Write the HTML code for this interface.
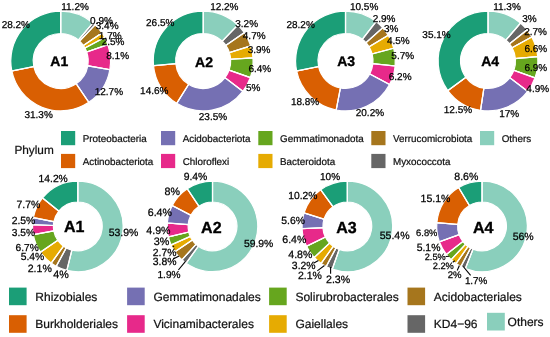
<!DOCTYPE html>
<html><head><meta charset="utf-8"><title>Donut charts</title>
<style>html,body{margin:0;padding:0;background:#fff;width:550px;height:337px;overflow:hidden}svg{display:block}</style>
</head><body>
<svg width="550" height="337" viewBox="0 0 550 337" text-rendering="geometricPrecision" font-family="'Liberation Sans', sans-serif"><g stroke="#fff" stroke-width="1.2">
<path d="M60.7 11.1A49.9 49.9 0 0 1 92.99 22.95L78.49 40.03A27.5 27.5 0 0 0 60.7 33.5Z" fill="#8ACFBC"/>
<path d="M92.99 22.95A49.9 49.9 0 0 1 95.09 24.84L79.65 41.07A27.5 27.5 0 0 0 78.49 40.03Z" fill="#666666"/>
<path d="M95.09 24.84A49.9 49.9 0 0 1 101.97 32.95L83.44 45.54A27.5 27.5 0 0 0 79.65 41.07Z" fill="#A6761D"/>
<path d="M101.97 32.95A49.9 49.9 0 0 1 104.73 37.51L84.96 48.06A27.5 27.5 0 0 0 83.44 45.54Z" fill="#E6AB02"/>
<path d="M104.73 37.51A49.9 49.9 0 0 1 107.86 44.69L86.69 52.01A27.5 27.5 0 0 0 84.96 48.06Z" fill="#66A61E"/>
<path d="M107.86 44.69A49.9 49.9 0 0 1 109.83 69.73L87.78 65.81A27.5 27.5 0 0 0 86.69 52.01Z" fill="#E7298A"/>
<path d="M109.83 69.73A49.9 49.9 0 0 1 88.75 102.27L76.16 83.74A27.5 27.5 0 0 0 87.78 65.81Z" fill="#7570B3"/>
<path d="M88.75 102.27A49.9 49.9 0 0 1 11.81 70.97L33.75 66.49A27.5 27.5 0 0 0 76.16 83.74Z" fill="#D95F02"/>
<path d="M11.81 70.97A49.9 49.9 0 0 1 60.7 11.1L60.7 33.5A27.5 27.5 0 0 0 33.75 66.49Z" fill="#1B9E77"/>
<line x1="60.7" y1="34.5" x2="60.7" y2="10.1"/>
<line x1="77.85" y1="40.8" x2="93.64" y2="22.19"/>
<line x1="78.96" y1="41.8" x2="95.78" y2="24.12"/>
<line x1="82.62" y1="46.1" x2="102.8" y2="32.39"/>
<line x1="84.08" y1="48.53" x2="105.61" y2="37.04"/>
<line x1="85.74" y1="52.34" x2="108.8" y2="44.36"/>
<line x1="86.79" y1="65.64" x2="110.81" y2="69.91"/>
<line x1="75.6" y1="82.92" x2="89.31" y2="103.1"/>
<line x1="34.73" y1="66.29" x2="10.83" y2="71.17"/>
<path d="M203.2 11.1A49.9 49.9 0 0 1 237.81 25.06L222.28 41.19A27.5 27.5 0 0 0 203.2 33.5Z" fill="#8ACFBC"/>
<path d="M237.81 25.06A49.9 49.9 0 0 1 244.29 32.69L225.85 45.4A27.5 27.5 0 0 0 222.28 41.19Z" fill="#666666"/>
<path d="M244.29 32.69A49.9 49.9 0 0 1 250.75 45.88L229.41 52.67A27.5 27.5 0 0 0 225.85 45.4Z" fill="#A6761D"/>
<path d="M250.75 45.88A49.9 49.9 0 0 1 253 57.87L230.65 59.27A27.5 27.5 0 0 0 229.41 52.67Z" fill="#E6AB02"/>
<path d="M253 57.87A49.9 49.9 0 0 1 250.26 77.61L229.13 70.15A27.5 27.5 0 0 0 230.65 59.27Z" fill="#66A61E"/>
<path d="M250.26 77.61A49.9 49.9 0 0 1 242.82 91.34L225.03 77.72A27.5 27.5 0 0 0 229.13 70.15Z" fill="#E7298A"/>
<path d="M242.82 91.34A49.9 49.9 0 0 1 176.73 103.3L188.61 84.31A27.5 27.5 0 0 0 225.03 77.72Z" fill="#7570B3"/>
<path d="M176.73 103.3A49.9 49.9 0 0 1 153.52 65.7L175.82 63.59A27.5 27.5 0 0 0 188.61 84.31Z" fill="#D95F02"/>
<path d="M153.52 65.7A49.9 49.9 0 0 1 203.2 11.1L203.2 33.5A27.5 27.5 0 0 0 175.82 63.59Z" fill="#1B9E77"/>
<line x1="203.2" y1="34.5" x2="203.2" y2="10.1"/>
<line x1="221.58" y1="41.91" x2="238.51" y2="24.34"/>
<line x1="225.02" y1="45.97" x2="245.12" y2="32.13"/>
<line x1="228.45" y1="52.97" x2="251.71" y2="45.58"/>
<line x1="229.65" y1="59.34" x2="254" y2="57.8"/>
<line x1="228.19" y1="69.82" x2="251.2" y2="77.94"/>
<line x1="224.24" y1="77.11" x2="243.61" y2="91.94"/>
<line x1="189.14" y1="83.46" x2="176.2" y2="104.15"/>
<line x1="176.82" y1="63.49" x2="152.53" y2="65.79"/>
<path d="M345.5 11.1A49.9 49.9 0 0 1 376.08 21.57L362.35 39.27A27.5 27.5 0 0 0 345.5 33.5Z" fill="#8ACFBC"/>
<path d="M376.08 21.57A49.9 49.9 0 0 1 382.72 27.77L366.01 42.68A27.5 27.5 0 0 0 362.35 39.27Z" fill="#666666"/>
<path d="M382.72 27.77A49.9 49.9 0 0 1 388.29 35.33L369.08 46.85A27.5 27.5 0 0 0 366.01 42.68Z" fill="#A6761D"/>
<path d="M388.29 35.33A49.9 49.9 0 0 1 393.75 48.29L372.09 53.99A27.5 27.5 0 0 0 369.08 46.85Z" fill="#E6AB02"/>
<path d="M393.75 48.29A49.9 49.9 0 0 1 395.15 66.01L372.86 63.76A27.5 27.5 0 0 0 372.09 53.99Z" fill="#66A61E"/>
<path d="M395.15 66.01A49.9 49.9 0 0 1 389.53 84.49L369.76 73.94A27.5 27.5 0 0 0 372.86 63.76Z" fill="#E7298A"/>
<path d="M389.53 84.49A49.9 49.9 0 0 1 336.15 110.02L340.35 88.01A27.5 27.5 0 0 0 369.76 73.94Z" fill="#7570B3"/>
<path d="M336.15 110.02A49.9 49.9 0 0 1 296.61 70.97L318.55 66.49A27.5 27.5 0 0 0 340.35 88.01Z" fill="#D95F02"/>
<path d="M296.61 70.97A49.9 49.9 0 0 1 345.5 11.1L345.5 33.5A27.5 27.5 0 0 0 318.55 66.49Z" fill="#1B9E77"/>
<line x1="345.5" y1="34.5" x2="345.5" y2="10.1"/>
<line x1="361.74" y1="40.06" x2="376.7" y2="20.78"/>
<line x1="365.27" y1="43.35" x2="383.47" y2="27.1"/>
<line x1="368.22" y1="47.37" x2="389.15" y2="34.82"/>
<line x1="371.13" y1="54.25" x2="394.72" y2="48.03"/>
<line x1="371.87" y1="63.66" x2="396.14" y2="66.11"/>
<line x1="368.88" y1="73.47" x2="390.41" y2="84.96"/>
<line x1="340.53" y1="87.03" x2="335.96" y2="111"/>
<line x1="319.53" y1="66.29" x2="295.63" y2="71.17"/>
<path d="M488 11.1A49.9 49.9 0 0 1 520.53 23.16L505.93 40.15A27.5 27.5 0 0 0 488 33.5Z" fill="#8ACFBC"/>
<path d="M520.53 23.16A49.9 49.9 0 0 1 527.04 29.92L509.52 43.87A27.5 27.5 0 0 0 505.93 40.15Z" fill="#666666"/>
<path d="M527.04 29.92A49.9 49.9 0 0 1 531.73 36.96L512.1 47.75A27.5 27.5 0 0 0 509.52 43.87Z" fill="#A6761D"/>
<path d="M531.73 36.96A49.9 49.9 0 0 1 537.71 56.62L515.39 58.58A27.5 27.5 0 0 0 512.1 47.75Z" fill="#E6AB02"/>
<path d="M537.71 56.62A49.9 49.9 0 0 1 534.95 77.9L513.87 70.32A27.5 27.5 0 0 0 515.39 58.58Z" fill="#66A61E"/>
<path d="M534.95 77.9A49.9 49.9 0 0 1 527.62 91.34L509.83 77.72A27.5 27.5 0 0 0 513.87 70.32Z" fill="#E7298A"/>
<path d="M527.62 91.34A49.9 49.9 0 0 1 480.5 110.33L483.87 88.19A27.5 27.5 0 0 0 509.83 77.72Z" fill="#7570B3"/>
<path d="M480.5 110.33A49.9 49.9 0 0 1 447.82 90.58L465.85 77.3A27.5 27.5 0 0 0 483.87 88.19Z" fill="#D95F02"/>
<path d="M447.82 90.58A49.9 49.9 0 0 1 488 11.1L488 33.5A27.5 27.5 0 0 0 465.85 77.3Z" fill="#1B9E77"/>
<line x1="488" y1="34.5" x2="488" y2="10.1"/>
<line x1="505.27" y1="40.9" x2="521.18" y2="22.4"/>
<line x1="508.73" y1="44.5" x2="527.82" y2="29.3"/>
<line x1="511.22" y1="48.23" x2="532.6" y2="36.48"/>
<line x1="514.4" y1="58.67" x2="538.7" y2="56.53"/>
<line x1="512.93" y1="69.98" x2="535.89" y2="78.24"/>
<line x1="509.04" y1="77.11" x2="528.41" y2="91.94"/>
<line x1="484.02" y1="87.2" x2="480.35" y2="111.32"/>
<line x1="466.66" y1="76.71" x2="447.01" y2="91.18"/>
<path d="M77.8 181.1A45.3 45.3 0 1 1 66.81 270.35L71.88 250.07A24.4 24.4 0 1 0 77.8 202Z" fill="#8ACFBC"/>
<path d="M66.81 270.35A45.3 45.3 0 0 1 56.23 266.23L66.18 247.86A24.4 24.4 0 0 0 71.88 250.07Z" fill="#666666"/>
<path d="M56.23 266.23A45.3 45.3 0 0 1 51.17 263.05L63.46 246.14A24.4 24.4 0 0 0 66.18 247.86Z" fill="#A6761D"/>
<path d="M51.17 263.05A45.3 45.3 0 0 1 40.49 252.1L57.71 240.24A24.4 24.4 0 0 0 63.46 246.14Z" fill="#E6AB02"/>
<path d="M40.49 252.1A45.3 45.3 0 0 1 33.25 234.61L53.8 230.82A24.4 24.4 0 0 0 57.71 240.24Z" fill="#66A61E"/>
<path d="M33.25 234.61A45.3 45.3 0 0 1 32.53 224.69L53.42 225.48A24.4 24.4 0 0 0 53.8 230.82Z" fill="#E7298A"/>
<path d="M32.53 224.69A45.3 45.3 0 0 1 33.36 217.63L53.86 221.68A24.4 24.4 0 0 0 53.42 225.48Z" fill="#7570B3"/>
<path d="M33.36 217.63A45.3 45.3 0 0 1 42.54 197.97L58.81 211.08A24.4 24.4 0 0 0 53.86 221.68Z" fill="#D95F02"/>
<path d="M42.54 197.97A45.3 45.3 0 0 1 77.8 181.1L77.8 202A24.4 24.4 0 0 0 58.81 211.08Z" fill="#1B9E77"/>
<line x1="77.8" y1="203" x2="77.8" y2="180.1"/>
<line x1="72.12" y1="249.1" x2="66.57" y2="271.32"/>
<line x1="66.66" y1="246.98" x2="55.75" y2="267.11"/>
<line x1="64.05" y1="245.33" x2="50.59" y2="263.86"/>
<line x1="58.53" y1="239.67" x2="39.67" y2="252.66"/>
<line x1="54.79" y1="230.64" x2="32.27" y2="234.79"/>
<line x1="54.42" y1="225.52" x2="31.53" y2="224.65"/>
<line x1="54.84" y1="221.87" x2="32.38" y2="217.44"/>
<line x1="59.58" y1="211.71" x2="41.76" y2="197.34"/>
<path d="M212.5 181.1A45.3 45.3 0 1 1 186.1 263.22L198.28 246.23A24.4 24.4 0 1 0 212.5 202Z" fill="#8ACFBC"/>
<path d="M186.1 263.22A45.3 45.3 0 0 1 181.91 259.81L196.02 244.4A24.4 24.4 0 0 0 198.28 246.23Z" fill="#666666"/>
<path d="M181.91 259.81A45.3 45.3 0 0 1 174.87 251.63L192.23 239.99A24.4 24.4 0 0 0 196.02 244.4Z" fill="#A6761D"/>
<path d="M174.87 251.63A45.3 45.3 0 0 1 171.16 244.91L190.23 236.37A24.4 24.4 0 0 0 192.23 239.99Z" fill="#E6AB02"/>
<path d="M171.16 244.91A45.3 45.3 0 0 1 168.42 236.84L188.76 232.02A24.4 24.4 0 0 0 190.23 236.37Z" fill="#66A61E"/>
<path d="M168.42 236.84A45.3 45.3 0 0 1 167.33 222.99L188.17 224.56A24.4 24.4 0 0 0 188.76 232.02Z" fill="#E7298A"/>
<path d="M167.33 222.99A45.3 45.3 0 0 1 172.27 205.58L190.83 215.19A24.4 24.4 0 0 0 188.17 224.56Z" fill="#7570B3"/>
<path d="M172.27 205.58A45.3 45.3 0 0 1 187.27 188.77L198.91 206.13A24.4 24.4 0 0 0 190.83 215.19Z" fill="#D95F02"/>
<path d="M187.27 188.77A45.3 45.3 0 0 1 212.5 181.1L212.5 202A24.4 24.4 0 0 0 198.91 206.13Z" fill="#1B9E77"/>
<line x1="212.5" y1="203" x2="212.5" y2="180.1"/>
<line x1="198.87" y1="245.42" x2="185.52" y2="264.03"/>
<line x1="196.7" y1="243.66" x2="181.23" y2="260.55"/>
<line x1="193.06" y1="239.43" x2="174.04" y2="252.18"/>
<line x1="191.14" y1="235.96" x2="170.24" y2="245.32"/>
<line x1="189.73" y1="231.79" x2="167.45" y2="237.07"/>
<line x1="189.17" y1="224.64" x2="166.33" y2="222.91"/>
<line x1="191.72" y1="215.65" x2="171.38" y2="205.12"/>
<line x1="199.47" y1="206.96" x2="186.72" y2="187.94"/>
<path d="M347.3 181.1A45.3 45.3 0 1 1 332.22 269.12L339.18 249.41A24.4 24.4 0 1 0 347.3 202Z" fill="#8ACFBC"/>
<path d="M332.22 269.12A45.3 45.3 0 0 1 326.23 266.5L335.95 248A24.4 24.4 0 0 0 339.18 249.41Z" fill="#666666"/>
<path d="M326.23 266.5A45.3 45.3 0 0 1 321.14 263.38L333.21 246.32A24.4 24.4 0 0 0 335.95 248Z" fill="#A6761D"/>
<path d="M321.14 263.38A45.3 45.3 0 0 1 314.28 257.41L329.51 243.1A24.4 24.4 0 0 0 333.21 246.32Z" fill="#E6AB02"/>
<path d="M314.28 257.41A45.3 45.3 0 0 1 306.56 246.2L325.35 237.07A24.4 24.4 0 0 0 329.51 243.1Z" fill="#66A61E"/>
<path d="M306.56 246.2A45.3 45.3 0 0 1 302.06 228.68L322.93 227.63A24.4 24.4 0 0 0 325.35 237.07Z" fill="#E7298A"/>
<path d="M302.06 228.68A45.3 45.3 0 0 1 304.04 212.94L324 219.15A24.4 24.4 0 0 0 322.93 227.63Z" fill="#7570B3"/>
<path d="M304.04 212.94A45.3 45.3 0 0 1 320.67 189.75L332.96 206.66A24.4 24.4 0 0 0 324 219.15Z" fill="#D95F02"/>
<path d="M320.67 189.75A45.3 45.3 0 0 1 347.3 181.1L347.3 202A24.4 24.4 0 0 0 332.96 206.66Z" fill="#1B9E77"/>
<line x1="347.3" y1="203" x2="347.3" y2="180.1"/>
<line x1="339.51" y1="248.47" x2="331.89" y2="270.06"/>
<line x1="336.42" y1="247.11" x2="325.76" y2="267.39"/>
<line x1="333.78" y1="245.5" x2="320.56" y2="264.2"/>
<line x1="330.24" y1="242.42" x2="313.55" y2="258.09"/>
<line x1="326.25" y1="236.63" x2="305.66" y2="246.64"/>
<line x1="323.93" y1="227.58" x2="301.06" y2="228.73"/>
<line x1="324.96" y1="219.45" x2="303.09" y2="212.65"/>
<line x1="333.55" y1="207.47" x2="320.09" y2="188.94"/>
<path d="M482 181.1A45.3 45.3 0 1 1 465.32 268.52L473.02 249.09A24.4 24.4 0 1 0 482 202Z" fill="#8ACFBC"/>
<path d="M465.32 268.52A45.3 45.3 0 0 1 460.93 266.5L470.65 248A24.4 24.4 0 0 0 473.02 249.09Z" fill="#666666"/>
<path d="M460.93 266.5A45.3 45.3 0 0 1 456.07 263.54L468.03 246.41A24.4 24.4 0 0 0 470.65 248Z" fill="#A6761D"/>
<path d="M456.07 263.54A45.3 45.3 0 0 1 451.2 259.62L465.41 244.29A24.4 24.4 0 0 0 468.03 246.41Z" fill="#E6AB02"/>
<path d="M451.2 259.62A45.3 45.3 0 0 1 446.38 254.39L462.81 241.48A24.4 24.4 0 0 0 465.41 244.29Z" fill="#66A61E"/>
<path d="M446.38 254.39A45.3 45.3 0 0 1 439.38 241.74L459.04 234.67A24.4 24.4 0 0 0 462.81 241.48Z" fill="#E7298A"/>
<path d="M439.38 241.74A45.3 45.3 0 0 1 436.85 222.7L457.68 224.41A24.4 24.4 0 0 0 459.04 234.67Z" fill="#7570B3"/>
<path d="M436.85 222.7A45.3 45.3 0 0 1 458.7 187.55L469.45 205.48A24.4 24.4 0 0 0 457.68 224.41Z" fill="#D95F02"/>
<path d="M458.7 187.55A45.3 45.3 0 0 1 482 181.1L482 202A24.4 24.4 0 0 0 469.45 205.48Z" fill="#1B9E77"/>
<line x1="482" y1="203" x2="482" y2="180.1"/>
<line x1="473.39" y1="248.16" x2="464.96" y2="269.45"/>
<line x1="471.12" y1="247.11" x2="460.46" y2="267.39"/>
<line x1="468.61" y1="245.59" x2="455.5" y2="264.36"/>
<line x1="466.09" y1="243.56" x2="450.52" y2="260.35"/>
<line x1="463.6" y1="240.86" x2="445.59" y2="255.01"/>
<line x1="459.98" y1="234.33" x2="438.44" y2="242.08"/>
<line x1="458.68" y1="224.49" x2="435.85" y2="222.62"/>
<line x1="469.96" y1="206.33" x2="458.18" y2="186.7"/>
</g>
<g font-weight="bold" fill="#000" stroke="#000" stroke-width="0.35">
<text x="50.3" y="65.7" font-size="14">A1</text>
<text x="195.1" y="66.8" font-size="14">A2</text>
<text x="337.2" y="65.9" font-size="14">A3</text>
<text x="481.2" y="66.1" font-size="14">A4</text>
<text x="64" y="231.7" font-size="16">A1</text>
<text x="201.1" y="232.5" font-size="16">A2</text>
<text x="336.3" y="232.5" font-size="16">A3</text>
<text x="472.9" y="232.5" font-size="16">A4</text>
</g>
<g fill="#000" stroke="#000" stroke-width="0.25">
<text x="1.65" y="27.75" font-size="10">28.2%</text>
<text x="61.22" y="10.25" font-size="10">11.2%</text>
<text x="90.09" y="24.25" font-size="10">0.9%</text>
<text x="95.74" y="29.35" font-size="10">3.4%</text>
<text x="98.8" y="38.85" font-size="10">1.7%</text>
<text x="101.63" y="45.05" font-size="10">2.5%</text>
<text x="106.26" y="59.35" font-size="10">8.1%</text>
<text x="94.72" y="95.45" font-size="10">12.7%</text>
<text x="24.46" y="117.55" font-size="10">31.3%</text>
<text x="146.05" y="25.55" font-size="10">26.5%</text>
<text x="210.17" y="10.45" font-size="10">12.2%</text>
<text x="235.29" y="26.75" font-size="10">3.2%</text>
<text x="242.82" y="38.65" font-size="10">4.7%</text>
<text x="247.69" y="53.45" font-size="10">3.9%</text>
<text x="248.38" y="71.95" font-size="10">6.4%</text>
<text x="246.05" y="91.25" font-size="10">5%</text>
<text x="198.8" y="120.45" font-size="10">23.5%</text>
<text x="140.12" y="94.25" font-size="10">14.6%</text>
<text x="286.45" y="27.75" font-size="10">28.2%</text>
<text x="349.97" y="9.85" font-size="10">10.5%</text>
<text x="372.63" y="21.65" font-size="10">2.9%</text>
<text x="384.01" y="32.35" font-size="10">3%</text>
<text x="386.92" y="44.45" font-size="10">4.5%</text>
<text x="391.33" y="59.35" font-size="10">5.7%</text>
<text x="388.78" y="80.45" font-size="10">6.2%</text>
<text x="355.75" y="115.85" font-size="10">20.2%</text>
<text x="290.92" y="104.95" font-size="10">18.8%</text>
<text x="422.36" y="37.95" font-size="10">35.1%</text>
<text x="493.17" y="10.25" font-size="10">11.3%</text>
<text x="522.16" y="21.65" font-size="10">3%</text>
<text x="524.18" y="35.45" font-size="10">2.7%</text>
<text x="524.38" y="51.65" font-size="10">6.6%</text>
<text x="524.38" y="71.05" font-size="10">6.9%</text>
<text x="526.37" y="91.85" font-size="10">4.9%</text>
<text x="499.24" y="117.25" font-size="10">17%</text>
<text x="443.82" y="113.25" font-size="10">12.5%</text>
<text x="38.56" y="181.95" font-size="10.32">14.2%</text>
<text x="108.63" y="235.95" font-size="10.44">53.9%</text>
<text x="16.51" y="208.05" font-size="10.49">7.7%</text>
<text x="11.63" y="224.35" font-size="10.4">2.5%</text>
<text x="11.76" y="236.15" font-size="10.2">3.5%</text>
<text x="15.53" y="250.65" font-size="10.17">6.7%</text>
<text x="20.64" y="260.25" font-size="10.35">5.4%</text>
<text x="27.72" y="272.15" font-size="10.58">2.1%</text>
<text x="53.3" y="277.55" font-size="10.74">4%</text>
<text x="183.66" y="180.05" font-size="10.42">9.4%</text>
<text x="164.49" y="194.75" font-size="10.69">8%</text>
<text x="147.71" y="215.55" font-size="10.67">6.4%</text>
<text x="146.31" y="233.95" font-size="10.63">4.9%</text>
<text x="153.74" y="244.55" font-size="10.79">3%</text>
<text x="152.73" y="255.85" font-size="10.4">2.7%</text>
<text x="152.75" y="264.75" font-size="10.43">3.8%</text>
<text x="157.48" y="277.95" font-size="10.15">1.9%</text>
<text x="243.94" y="246.75" font-size="10.36">59.9%</text>
<text x="319.98" y="180.05" font-size="10.05">10%</text>
<text x="288.16" y="199.25" font-size="10.32">10.2%</text>
<text x="281.33" y="223.65" font-size="10.39">5.6%</text>
<text x="282.31" y="243.25" font-size="10.58">6.4%</text>
<text x="288.31" y="258.45" font-size="10.58">4.8%</text>
<text x="291.85" y="269.35" font-size="10.43">3.2%</text>
<text x="297.92" y="278.75" font-size="10.53">2.1%</text>
<text x="326.02" y="282.85" font-size="10.62">2.3%</text>
<text x="379.63" y="238.75" font-size="10.58">55.4%</text>
<text x="454.29" y="179.85" font-size="10.54">8.6%</text>
<text x="420.55" y="202.15" font-size="10.54">15.1%</text>
<text x="416.07" y="235.85" font-size="9.39">6.8%</text>
<text x="416.63" y="250.75" font-size="10.44">5.1%</text>
<text x="424.79" y="260.25" font-size="9.16">2.5%</text>
<text x="432.78" y="268.85" font-size="9.26">2.2%</text>
<text x="447.77" y="278.45" font-size="9.56">2%</text>
<text x="464.9" y="283.65" font-size="9.87">1.7%</text>
<text x="512.63" y="239.95" font-size="10.54">56%</text>
</g>
<g stroke="#000" stroke-width="1.1">
<line x1="172.6" y1="247" x2="174.1" y2="245.9"/>
<line x1="173.2" y1="259.1" x2="179.1" y2="255.9"/>
<line x1="178.4" y1="270" x2="185.5" y2="261.4"/>
<line x1="313.5" y1="263.2" x2="318.4" y2="260.5"/>
<line x1="317.3" y1="270.9" x2="324.5" y2="265.5"/>
<line x1="330.6" y1="267" x2="330.6" y2="273.7"/>
<line x1="445.6" y1="256.5" x2="449.3" y2="256.3"/>
<line x1="452.7" y1="262.2" x2="454.9" y2="260.8"/>
<line x1="457.2" y1="270.4" x2="459.4" y2="265.6"/>
<line x1="463.2" y1="266.5" x2="470.6" y2="275.4"/>
</g>
<text x="14.4" y="153.5" font-size="11.8" fill="#111" stroke="#111" stroke-width="0.22">Phylum</text>
<rect x="61" y="131" width="14.2" height="14.2" fill="#1B9E77"/>
<text x="82.7" y="141.9" font-size="9.85" fill="#111" stroke="#111" stroke-width="0.22">Proteobacteria</text>
<rect x="61" y="153.9" width="14.2" height="14.2" fill="#D95F02"/>
<text x="82.7" y="164.8" font-size="9.85" fill="#111" stroke="#111" stroke-width="0.22">Actinobacteriota</text>
<rect x="161" y="131" width="14.2" height="14.2" fill="#7570B3"/>
<text x="182.7" y="141.9" font-size="9.85" fill="#111" stroke="#111" stroke-width="0.22">Acidobacteriota</text>
<rect x="161" y="153.9" width="14.2" height="14.2" fill="#E7298A"/>
<text x="182.7" y="164.8" font-size="9.85" fill="#111" stroke="#111" stroke-width="0.22">Chloroflexi</text>
<rect x="258.3" y="131" width="14.2" height="14.2" fill="#66A61E"/>
<text x="280" y="141.9" font-size="9.85" fill="#111" stroke="#111" stroke-width="0.22">Gemmatimonadota</text>
<rect x="258.3" y="153.9" width="14.2" height="14.2" fill="#E6AB02"/>
<text x="280" y="164.8" font-size="9.85" fill="#111" stroke="#111" stroke-width="0.22">Bacteroidota</text>
<rect x="371.3" y="131" width="14.2" height="14.2" fill="#A6761D"/>
<text x="393" y="141.9" font-size="9.85" fill="#111" stroke="#111" stroke-width="0.22">Verrucomicrobiota</text>
<rect x="371.3" y="153.9" width="14.2" height="14.2" fill="#666666"/>
<text x="393" y="164.8" font-size="9.85" fill="#111" stroke="#111" stroke-width="0.22">Myxococcota</text>
<rect x="480" y="131" width="14.2" height="14.2" fill="#8ACFBC"/>
<text x="501.7" y="141.9" font-size="9.85" fill="#111" stroke="#111" stroke-width="0.22">Others</text>
<rect x="9" y="287.6" width="17.6" height="17.6" fill="#1B9E77"/>
<text x="35.3" y="300.8" font-size="12" fill="#111" stroke="#111" stroke-width="0.22">Rhizobiales</text>
<rect x="9" y="315.2" width="17.6" height="17.6" fill="#D95F02"/>
<text x="35.3" y="328.4" font-size="12" fill="#111" stroke="#111" stroke-width="0.22">Burkholderiales</text>
<rect x="127.1" y="287.6" width="17.6" height="17.6" fill="#7570B3"/>
<text x="153.4" y="300.8" font-size="12" fill="#111" stroke="#111" stroke-width="0.22">Gemmatimonadales</text>
<rect x="127.1" y="315.2" width="17.6" height="17.6" fill="#E7298A"/>
<text x="153.4" y="328.4" font-size="12" fill="#111" stroke="#111" stroke-width="0.22">Vicinamibacterales</text>
<rect x="269.1" y="287.6" width="17.6" height="17.6" fill="#66A61E"/>
<text x="295.4" y="300.8" font-size="12" fill="#111" stroke="#111" stroke-width="0.22">Solirubrobacterales</text>
<rect x="269.1" y="315.2" width="17.6" height="17.6" fill="#E6AB02"/>
<text x="295.4" y="328.4" font-size="12" fill="#111" stroke="#111" stroke-width="0.22">Gaiellales</text>
<rect x="407.5" y="287.6" width="17.6" height="17.6" fill="#A6761D"/>
<text x="433.8" y="300.8" font-size="12" fill="#111" stroke="#111" stroke-width="0.22">Acidobacteriales</text>
<rect x="407.5" y="315.2" width="17.6" height="17.6" fill="#666666"/>
<text x="433.8" y="328.4" font-size="12" fill="#111" stroke="#111" stroke-width="0.22">KD4−96</text>
<rect x="487" y="312.8" width="17.8" height="17.7" fill="#8ACFBC"/>
<text x="507.6" y="325.9" font-size="12" fill="#111" stroke="#111" stroke-width="0.22">Others</text></svg>
</body></html>
